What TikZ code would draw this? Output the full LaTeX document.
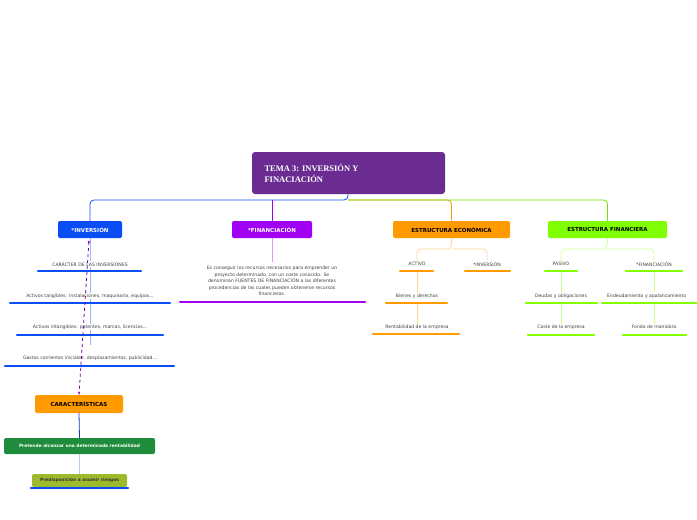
\documentclass[tikz,border=0pt]{standalone}
\usepackage{fontspec}
\setmainfont{Liberation Serif}
\setsansfont{DejaVu Sans}
\usetikzlibrary{arrows.meta}
\definecolor{ttl}{HTML}{6A2C91}
\definecolor{cblue}{HTML}{0A4DF5}
\definecolor{cpur}{HTML}{A100F2}
\definecolor{corg}{HTML}{FF9A00}
\definecolor{cgrn}{HTML}{7FFF00}
\definecolor{dgrn}{HTML}{1E8C3A}
\definecolor{olv}{HTML}{9DBA2C}
\begin{document}
\begin{tikzpicture}[x=1pt,y=-1pt,
  box/.style={rounded corners=2pt,font=\sffamily\bfseries\fontsize{5.5}{6}\selectfont,inner sep=0pt,minimum height=17pt},
  lbl/.style={font=\sffamily\fontsize{4.6}{5.6}\selectfont,text=black!75,inner sep=1pt},
  ul/.style={line width=2.2pt,line cap=round},
  con/.style={line width=0.8pt,rounded corners=4pt}]
\useasboundingbox (0,0) rectangle (697,520);
\clip (0,0) rectangle (697,520);
% title
\node[fill=ttl,rounded corners=3pt,minimum width=193pt,minimum height=42pt,inner sep=0pt] (t) at (348.5,173) {};
\node[anchor=west,text=white,font=\bfseries\fontsize{8.5}{11}\selectfont,align=left] (tt) at (261,173) {TEMA 3: INVERSIÓN Y\\FINACIACIÓN};
% main boxes
\node[box,fill=cblue,text=white,minimum width=64pt] (inv) at (90,229.5) {*INVERSIÓN};
\node[box,fill=cpur,text=white,minimum width=80pt] (fin) at (272,229.5) {*FINANCIACIÓN};
\node[box,fill=corg,text=black,minimum width=117pt] (eco) at (451.5,229.5) {ESTRUCTURA ECONÓMICA};
\node[box,fill=cgrn,text=black,minimum width=119pt] (efi) at (607.5,229.5) {ESTRUCTURA FINANCIERA};
\coordinate (tb) at (348,194);
\draw[con,cblue] (tb) -- (348,200) -| (inv.north);
\draw[con,cpur] (272,200) -- (fin.north);
\draw[con,corg] (348,200) -| (eco.north);
\draw[con,cgrn!80!black!60!cgrn] (348,200) -| (efi.north);
% inversion children
\draw[line width=0.8pt,cblue!40] (inv.south) -- (90,345);
\node[lbl,fill=white] (c1) at (90,264) {CARÁCTER DE LAS INVERSIONES};
\draw[ul,cblue] (38,271) -- (141,271);
\node[lbl,fill=white] (c2) at (90,296) {Activos tangibles: instalaciones, maquinaria, equipos...};
\draw[ul,cblue] (10,303) -- (170,303);
\node[lbl,fill=white] (c3) at (90,327) {Activos intangibles: patentes, marcas, licencias...};
\draw[ul,cblue] (17,335) -- (163,335);
\node[lbl,fill=white] (c4) at (90,358) {Gastos corrientes iniciales: desplazamientos, publicidad...};
\draw[ul,cblue] (5,366) -- (174,366);
% caracteristicas
\node[box,fill=corg,text=black,minimum width=88pt,minimum height=18pt] (car) at (79,404) {CARACTERÍSTICAS};
\draw[line width=0.8pt,cpur!70!black,dashed,{Stealth[length=3pt]}-{Stealth[length=3pt]}] (inv.south -| 89,0) ++(0,2) -- (car.north);
\node[box,fill=dgrn,text=white,minimum width=151pt,minimum height=16pt,font=\sffamily\bfseries\fontsize{4.4}{5}\selectfont] (p1) at (79.5,446) {Pretende alcanzar una determinada rentabilidad};
\node[box,fill=olv,text=black!80,minimum width=95pt,minimum height=13pt,font=\sffamily\bfseries\fontsize{4.4}{5}\selectfont] (p2) at (79.5,480.5) {Predisposición a asumir riesgos};
\draw[line width=0.8pt,cblue!80!black] (car.south) -- (p1.north);
\draw[line width=0.8pt,cblue!30] (p1.south) -- (p2.north);
\draw[ul,cblue] (31,488) -- (128,488);
% financiacion text
\draw[line width=0.8pt,cpur!40] (fin.south) -- (272,262);
\node[lbl,align=center,font=\sffamily\fontsize{4.6}{6.5}\selectfont] (ft) at (272,281) {Es conseguir los recursos necesarios para emprender un\\proyecto determinado, con un coste conocido. Se\\denominan FUENTES DE FINANCIACIÓN a las diferentes\\procedencias de las cuales pueden obtenerse recursos\\financieros.};
\draw[ul,cpur] (180,302) -- (365,302);
% economica
\node[lbl] (act) at (417,264) {ACTIVO};
\node[lbl] (einv) at (487,264) {*INVERSIÓN};
\draw[con,corg!40] (eco.south) -- (451.5,249) -| (act.north);
\draw[con,corg!40] (451.5,249) -| (einv.north);
\draw[ul,corg] (400,271) -- (433,271);
\draw[ul,corg] (465,271) -- (510,271);
\node[lbl,fill=white] (bd) at (417,296) {Bienes y derechos};
\node[lbl,fill=white] (re) at (417,327) {Rentabilidad de la empresa};
\draw[line width=0.8pt,corg!40] (417,272) -- (bd.north) (417,304) -- (re.north);
\draw[ul,corg] (386,303) -- (447,303);
\draw[ul,corg] (373,334) -- (459,334);
% financiera
\node[lbl] (pas) at (561,264) {PASIVO};
\node[lbl] (efin) at (654,264) {*FINANCIACIÓN};
\draw[con,cgrn!40] (efi.south) -- (607,249) -| (pas.north);
\draw[con,cgrn!40] (607,249) -| (efin.north);
\draw[ul,cgrn] (545,271) -- (577,271);
\draw[ul,cgrn] (626,271) -- (682,271);
\node[lbl,fill=white] (dy) at (561,296) {Deudas y obligaciones};
\node[lbl,fill=white] (ce) at (561,327) {Coste de la empresa};
\node[lbl,fill=white,anchor=west] (en) at (606,296) {Endeudamiento y apalancamiento};
\node[lbl,fill=white] (fm) at (654,327) {Fondo de maniobra};
\draw[line width=0.8pt,cgrn!40] (561,272) -- (dy.north) (561,304) -- (ce.north);
\draw[line width=0.8pt,cgrn!40] (654,272) -- (654,292) (654,304) -- (fm.north);
\draw[ul,cgrn] (526,303) -- (597,303);
\draw[ul,cgrn] (528,335) -- (594,335);
\draw[ul,cgrn] (602,303) -- (700,303);
\draw[ul,cgrn] (623,335) -- (686,335);
\end{tikzpicture}
\end{document}
